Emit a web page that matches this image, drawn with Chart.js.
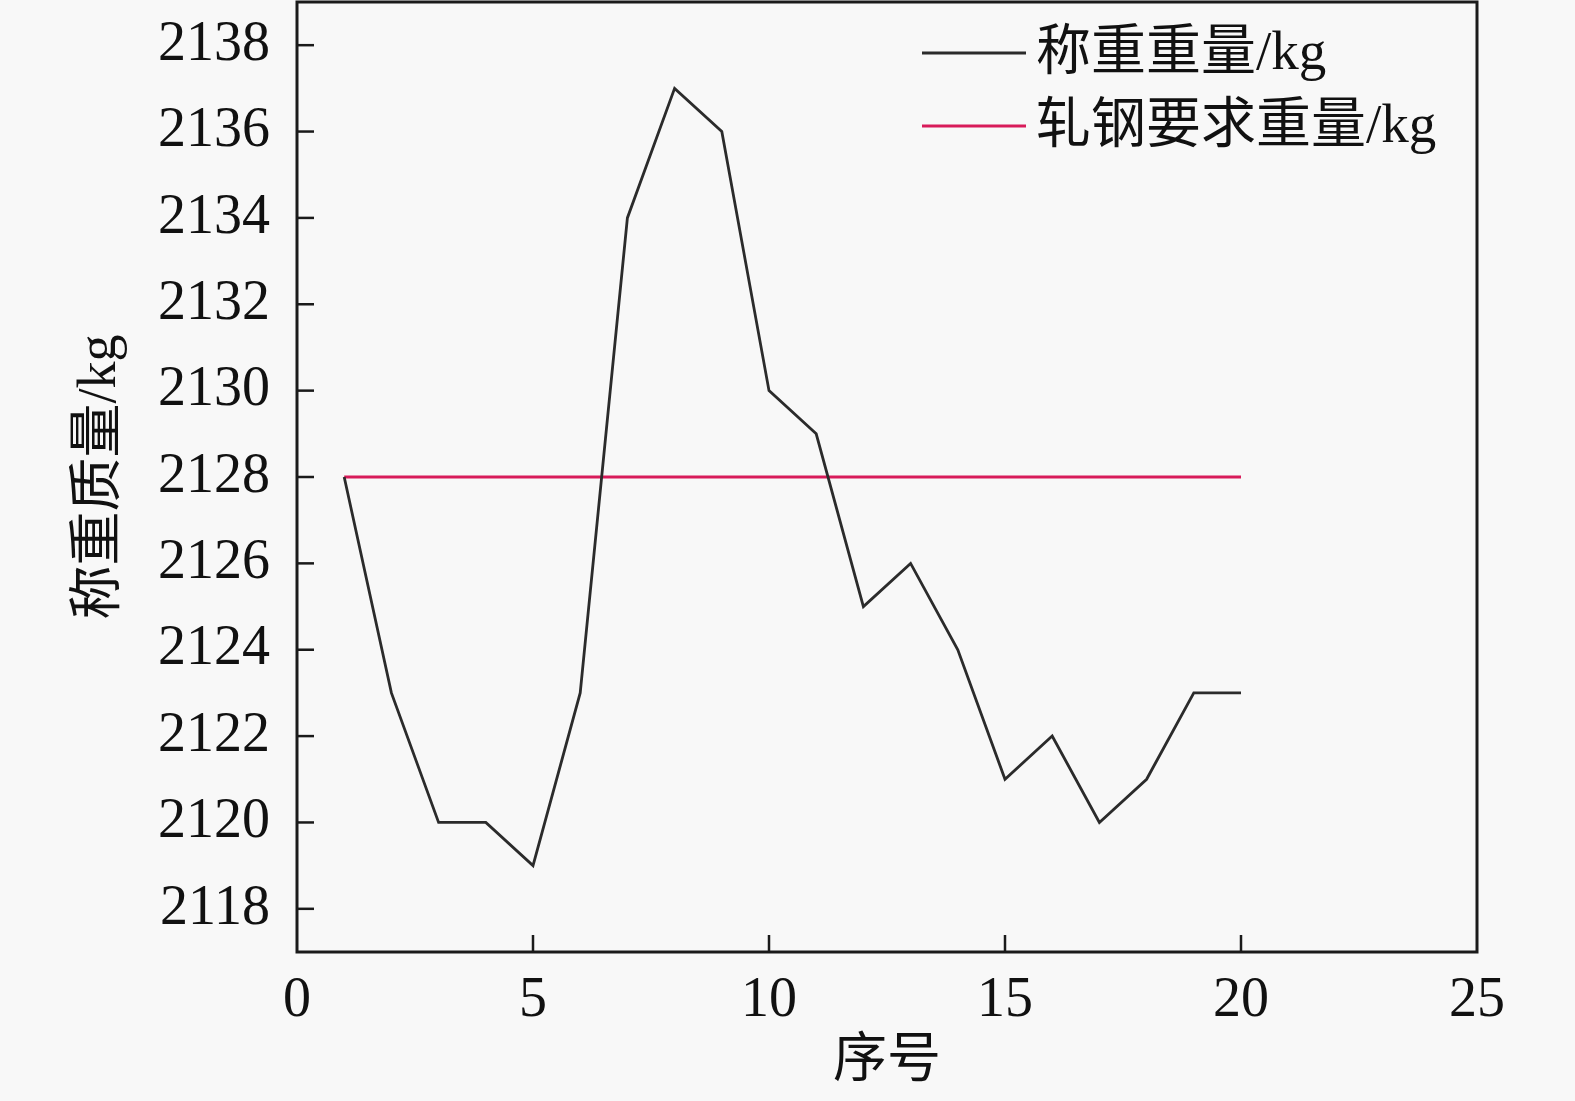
<!DOCTYPE html>
<html>
<head>
<meta charset="utf-8">
<script src="https://cdn.jsdelivr.net/npm/chart.js@4.4.1/dist/chart.umd.min.js"></script>
<style>
    html, body { margin: 0; padding: 0; background: #f8f8f8; }
    #wrap { width: 1575px; height: 1101px; }
</style>
</head>
<body>
<div id="wrap"><canvas id="weightChart"></canvas></div>
<script>
const seqNo = [1, 2, 3, 4, 5, 6, 7, 8, 9, 10, 11, 12, 13, 14, 15, 16, 17, 18, 19, 20];
const weighed = [2128, 2123, 2120, 2120, 2119, 2123, 2134, 2137, 2136, 2130, 2129, 2125, 2126, 2124, 2121, 2122, 2120, 2121, 2123, 2123];
const required = [2128, 2128, 2128, 2128, 2128, 2128, 2128, 2128, 2128, 2128, 2128, 2128, 2128, 2128, 2128, 2128, 2128, 2128, 2128, 2128];
const xTicks = [0, 5, 10, 15, 20, 25];
const yTicks = [2118, 2120, 2122, 2124, 2126, 2128, 2130, 2132, 2134, 2136, 2138];

const FONT = "'Liberation Serif', 'Noto Sans CJK SC', serif";

// frame + inward tick marks + legend drawn on top
const framePlugin = {
    id: 'frame',
    afterDraw(chart) {
        const ctx = chart.ctx;
        const a = chart.chartArea;
        ctx.save();
        ctx.strokeStyle = '#1a1a1a';
        ctx.lineWidth = 3;
        ctx.strokeRect(a.left, a.top, a.right - a.left, a.bottom - a.top);

        ctx.lineWidth = 2.5;
        const ys = chart.scales.y;
        ys.ticks.forEach(t => {
            const py = ys.getPixelForValue(t.value);
            ctx.beginPath();
            ctx.moveTo(a.left, py);
            ctx.lineTo(a.left + 17, py);
            ctx.stroke();
        });
        const xs = chart.scales.x;
        xs.ticks.forEach(t => {
            if (t.value <= xs.min || t.value >= xs.max) return;
            const px = xs.getPixelForValue(t.value);
            ctx.beginPath();
            ctx.moveTo(px, a.bottom);
            ctx.lineTo(px, a.bottom - 17);
            ctx.stroke();
        });

        // legend
        const rows = [53, 126];
        ctx.font = '55px ' + FONT;
        ctx.textBaseline = 'middle';
        ctx.textAlign = 'left';
        chart.data.datasets.forEach((ds, i) => {
            const y = rows[i];
            ctx.strokeStyle = ds.borderColor;
            ctx.lineWidth = ds.borderWidth;
            ctx.beginPath();
            ctx.moveTo(922, y);
            ctx.lineTo(1026, y);
            ctx.stroke();
            ctx.fillStyle = '#111';
            ctx.fillText(ds.label, 1036, y + 2);
        });
        ctx.restore();
    }
};

new Chart(document.getElementById('weightChart'), {
    type: 'line',
    data: {
        datasets: [{
            label: '称重重量/kg',
            data: seqNo.map((x, i) => ({ x: x, y: weighed[i] })),
            borderColor: '#2b2b2b',
            borderWidth: 2.8,
            pointRadius: 0,
            tension: 0
        }, {
            label: '轧钢要求重量/kg',
            data: seqNo.map((x, i) => ({ x: x, y: required[i] })),
            borderColor: '#d81b5a',
            borderWidth: 2.8,
            pointRadius: 0,
            tension: 0
        }]
    },
    options: {
        responsive: true,
        maintainAspectRatio: false,
        animation: false,
        layout: { padding: { top: 2, right: 98, left: 0, bottom: 0 } },
        plugins: {
            legend: { display: false },
            tooltip: { enabled: false }
        },
        scales: {
            x: {
                type: 'linear',
                min: 0,
                max: 25,
                afterBuildTicks: s => { s.ticks = xTicks.map(v => ({ value: v })); },
                afterFit: s => { s.height = 149; s.paddingLeft = 0; s.paddingRight = 0; },
                grid: { display: false, drawTicks: false },
                border: { display: false },
                ticks: {
                    color: '#111',
                    padding: 16,
                    maxRotation: 0,
                    callback: v => String(v),
                    font: { family: FONT, size: 56 }
                },
                title: {
                    display: true,
                    text: '序号',
                    color: '#111',
                    padding: { top: 0, bottom: 6 },
                    font: { family: FONT, size: 54 }
                }
            },
            y: {
                min: 2117,
                max: 2139,
                afterBuildTicks: s => { s.ticks = yTicks.map(v => ({ value: v })); },
                afterFit: s => { s.width = 297; s.paddingTop = 0; s.paddingBottom = 0; },
                grid: { display: false, drawTicks: false },
                border: { display: false },
                ticks: {
                    color: '#111',
                    padding: 27,
                    callback: v => String(v),
                    font: { family: FONT, size: 56 }
                },
                title: {
                    display: true,
                    text: '称重质量/kg',
                    color: '#111',
                    padding: { top: 68, bottom: 0 },
                    font: { family: FONT, size: 54 }
                }
            }
        }
    },
    plugins: [framePlugin]
});
</script>
</body>
</html>
